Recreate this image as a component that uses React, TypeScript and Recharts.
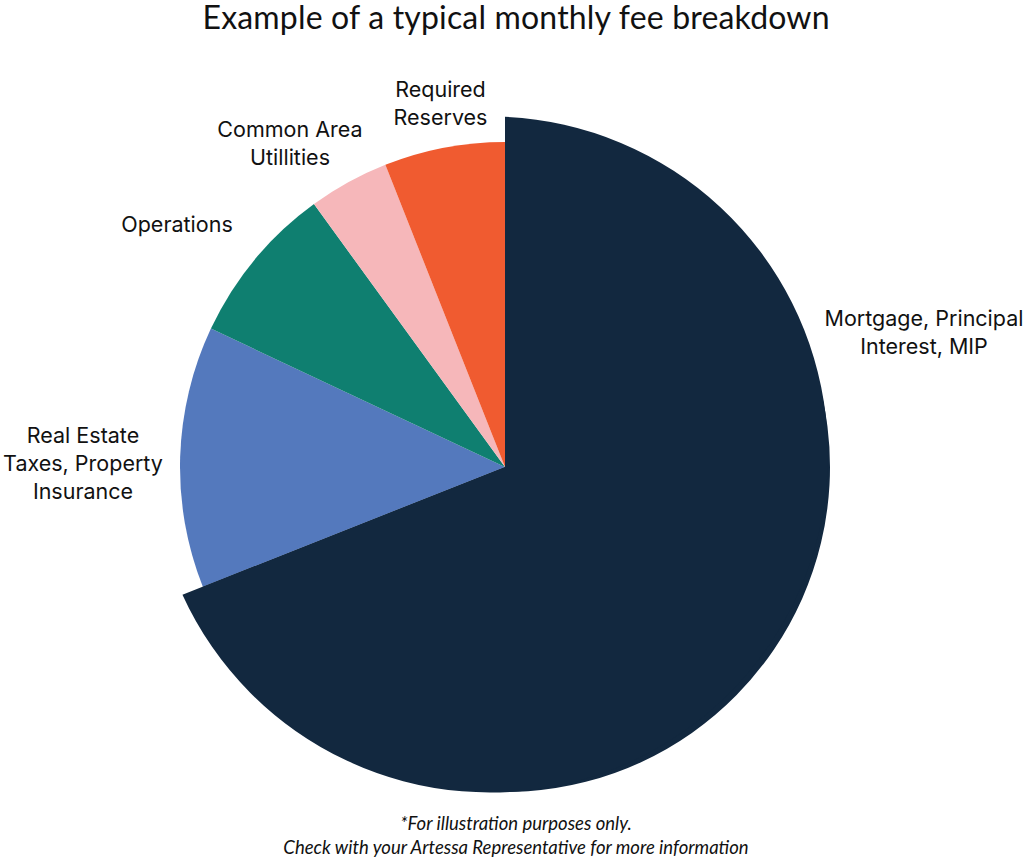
import React from 'react';
import { PieChart, Pie, Cell } from 'recharts';

// ---- data ----
const categories = [
  'Mortgage, Principal Interest, MIP',
  'Real Estate Taxes, Property Insurance',
  'Operations',
  'Common Area Utillities',
  'Required Reserves',
];
const shares = [69, 13, 8, 4, 6];
const colors = ['#12283F', '#5479BD', '#0F7F70', '#F6B7BA', '#F05B30'];
const labelLines = [
  ['Mortgage, Principal', 'Interest, MIP'],
  ['Real Estate', 'Taxes, Property', 'Insurance'],
  ['Operations'],
  ['Common Area', 'Utillities'],
  ['Required', 'Reserves'],
];
const titleText = 'Example of a typical monthly fee breakdown';
const footnoteLines = [
  '*For illustration purposes only.',
  'Check with your Artessa Representative for more information',
];

const data = categories.map((name, i) => ({ name, value: shares[i] }));

// ---- layout ----
const W = 1024;
const H = 862;
const CX = 505;
const CY = 467;
const R = 325;
const LABEL_OFFSETS: [number, number][] = [
  [419, -141],
  [-422, -24],
  [-328, -235],
  [-215, -330],
  [-64.5, -370],
];
const LINE_H = 28;
// the leading slice is drawn slightly enlarged / shifted (as in the reference)
const BULGE = { dx: -15, dy: -12.5, r: 338 };

const RAD = Math.PI / 180;

function bulgePath(cx: number, cy: number, startAngle: number, endAngle: number) {
  const ox = BULGE.dx;
  const oy = BULGE.dy;
  const rr = BULGE.r;
  const pt = (a: number) => {
    const ux = Math.cos(-a * RAD);
    const uy = Math.sin(-a * RAD);
    const d = ux * ox + uy * oy;
    const r = d + Math.sqrt(d * d - (ox * ox + oy * oy) + rr * rr);
    return { x: cx + ux * r, y: cy + uy * r };
  };
  const ps = pt(startAngle);
  const pe = pt(endAngle);
  const span = Math.abs(startAngle - endAngle);
  const large = span > 180 ? 1 : 0;
  return `M${cx},${cy} L${ps.x},${ps.y} A${rr},${rr} 0 ${large} 1 ${pe.x},${pe.y} Z`;
}

const renderLabel = (props: any) => {
  const { cx, cy, index, startAngle, endAngle } = props;
  const [dx, dy] = LABEL_OFFSETS[index];
  const lx = cx + dx;
  const ly = cy + dy;
  return (
    <g>
      {index === 0 ? (
        <path d={bulgePath(cx, cy, startAngle, endAngle)} fill={colors[0]} stroke="none" />
      ) : null}
      <text
        x={lx}
        y={ly}
        textAnchor="middle"
        fontFamily="Inter, 'Noto Sans', sans-serif"
        fontSize={21.5}
        fill="#111111"
      >
        {labelLines[index].map((l, j) => (
          <tspan key={j} x={lx} dy={j === 0 ? 0 : LINE_H}>
            {l}
          </tspan>
        ))}
      </text>
    </g>
  );
};

export default function App() {
  return (
    <div style={{ position: 'absolute', left: 0, top: 0, width: W, height: H, background: '#fff' }}>
      <PieChart width={W} height={H} margin={{ top: 0, right: 0, bottom: 0, left: 0 }}>
        <Pie
          data={data}
          dataKey="value"
          nameKey="name"
          cx={CX}
          cy={CY}
          outerRadius={R}
          innerRadius={0}
          startAngle={90}
          endAngle={-270}
          stroke="none"
          label={renderLabel}
          labelLine={false}
          isAnimationActive={false}
        >
          {data.map((d, i) => (
            <Cell key={d.name} fill={colors[i]} stroke="none" />
          ))}
        </Pie>
      </PieChart>
      <svg
        width={W}
        height={H}
        style={{ position: 'absolute', left: 0, top: 0, pointerEvents: 'none' }}
      >
        <text
          x={516}
          y={29}
          textAnchor="middle"
          fontFamily="Lato, 'Open Sans', sans-serif"
          fontSize={32}
          textLength={627}
          lengthAdjust="spacing"
          fill="#111111"
        >
          {titleText}
        </text>
        {footnoteLines.map((l, i) => (
          <text
            key={i}
            x={516}
            y={830 + i * 24}
            textAnchor="middle"
            fontFamily="Lato, 'Open Sans', sans-serif"
            fontStyle="italic"
            fontSize={18.5}
            fill="#111111"
          >
            {l}
          </text>
        ))}
      </svg>
    </div>
  );
}
